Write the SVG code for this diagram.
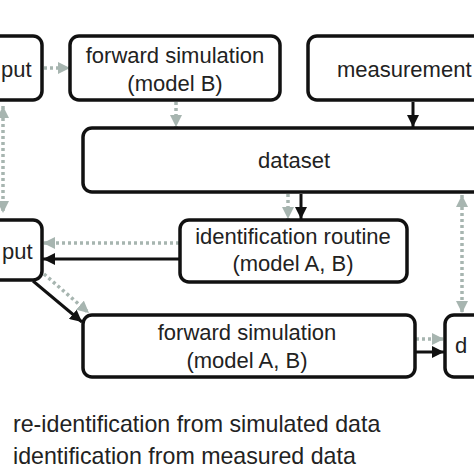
<svg xmlns="http://www.w3.org/2000/svg" width="474" height="474" viewBox="0 0 474 474">
<defs>
<style>
.box{fill:#fff;stroke:#111;stroke-width:3.5}
.t{font-family:"Liberation Sans",Arial,sans-serif;font-size:22px;fill:#222}
.m{text-anchor:middle}
.lg{font-size:23.2px}
.blk{stroke:#111;stroke-width:3;fill:none}
.gry{stroke:#a7b5b0;stroke-width:3.5;stroke-dasharray:3 3;fill:none}
</style>
<marker id="ab" viewBox="0 0 12 12" refX="12" refY="6" markerWidth="12" markerHeight="12" markerUnits="userSpaceOnUse" orient="auto-start-reverse"><path d="M0,0 L12,6 L0,12 z" fill="#111"/></marker>
<marker id="ag" viewBox="0 0 12 12" refX="12" refY="6" markerWidth="12" markerHeight="12" markerUnits="userSpaceOnUse" orient="auto-start-reverse"><path d="M0,0 L12,6 L0,12 z" fill="#a7b5b0"/></marker>
</defs>
<rect width="474" height="474" fill="#fff"/>
<g id="connectors">
<line class="gry" x1="44" y1="68" x2="70" y2="68" marker-end="url(#ag)"/>
<line class="gry" x1="176" y1="102" x2="176" y2="127" marker-end="url(#ag)"/>
<line class="blk" x1="413" y1="102" x2="413" y2="127" marker-end="url(#ab)"/>
<line class="gry" x1="288" y1="194" x2="288" y2="219" marker-end="url(#ag)"/>
<line class="blk" x1="301" y1="194" x2="301" y2="219" marker-end="url(#ab)"/>
<line class="gry" x1="179" y1="243" x2="43" y2="243" marker-end="url(#ag)"/>
<line class="blk" x1="179" y1="259" x2="43" y2="259" marker-end="url(#ab)"/>
<line class="gry" x1="3" y1="106" x2="3" y2="213" marker-start="url(#ag)" marker-end="url(#ag)"/>
<line class="blk" x1="33" y1="281" x2="82" y2="322" marker-end="url(#ab)"/>
<line class="gry" x1="44" y1="274" x2="89" y2="313" marker-end="url(#ag)"/>
<line class="gry" x1="416" y1="339" x2="444" y2="339" marker-end="url(#ag)"/>
<line class="blk" x1="416" y1="352" x2="444" y2="352" marker-end="url(#ab)"/>
<line class="gry" x1="462" y1="195" x2="462" y2="313" marker-start="url(#ag)" marker-end="url(#ag)"/>
</g>
<g id="input">
<rect class="box" x="-20" y="36" width="62" height="64" rx="9"/>
<text class="t" x="1" y="77">put</text>
</g>
<g id="fwdB">
<rect class="box" x="70" y="36" width="210" height="64" rx="9"/>
<text class="t m" x="175" y="63">forward simulation</text>
<text class="t m" x="175" y="91">(model B)</text>
</g>
<g id="measurement">
<rect class="box" x="308" y="36" width="200" height="64" rx="9"/>
<text class="t" x="337" y="77" fill="#111">measurement</text>
</g>
<g id="dataset">
<rect class="box" x="83" y="128" width="420" height="64" rx="9"/>
<text class="t m" x="294" y="168">dataset</text>
</g>
<g id="identification">
<rect class="box" x="180" y="220" width="227" height="62" rx="9"/>
<text class="t m" x="293" y="244">identification routine</text>
<text class="t m" x="293" y="271">(model A, B)</text>
</g>
<g id="output">
<rect class="box" x="-20" y="220" width="62" height="60" rx="9"/>
<text class="t" x="2" y="259">put</text>
</g>
<g id="fwdAB">
<rect class="box" x="83" y="315" width="332" height="62" rx="9"/>
<text class="t m" x="247" y="340">forward simulation</text>
<text class="t m" x="247" y="368">(model A, B)</text>
</g>
<g id="dataset2">
<rect class="box" x="445" y="315" width="80" height="62" rx="9"/>
<text class="t" x="455" y="353">d</text>
</g>
<g id="legend">
<text class="t lg" x="13" y="432">re-identification from simulated data</text>
<text class="t lg" x="13" y="464">identification from measured data</text>
</g>
</svg>
